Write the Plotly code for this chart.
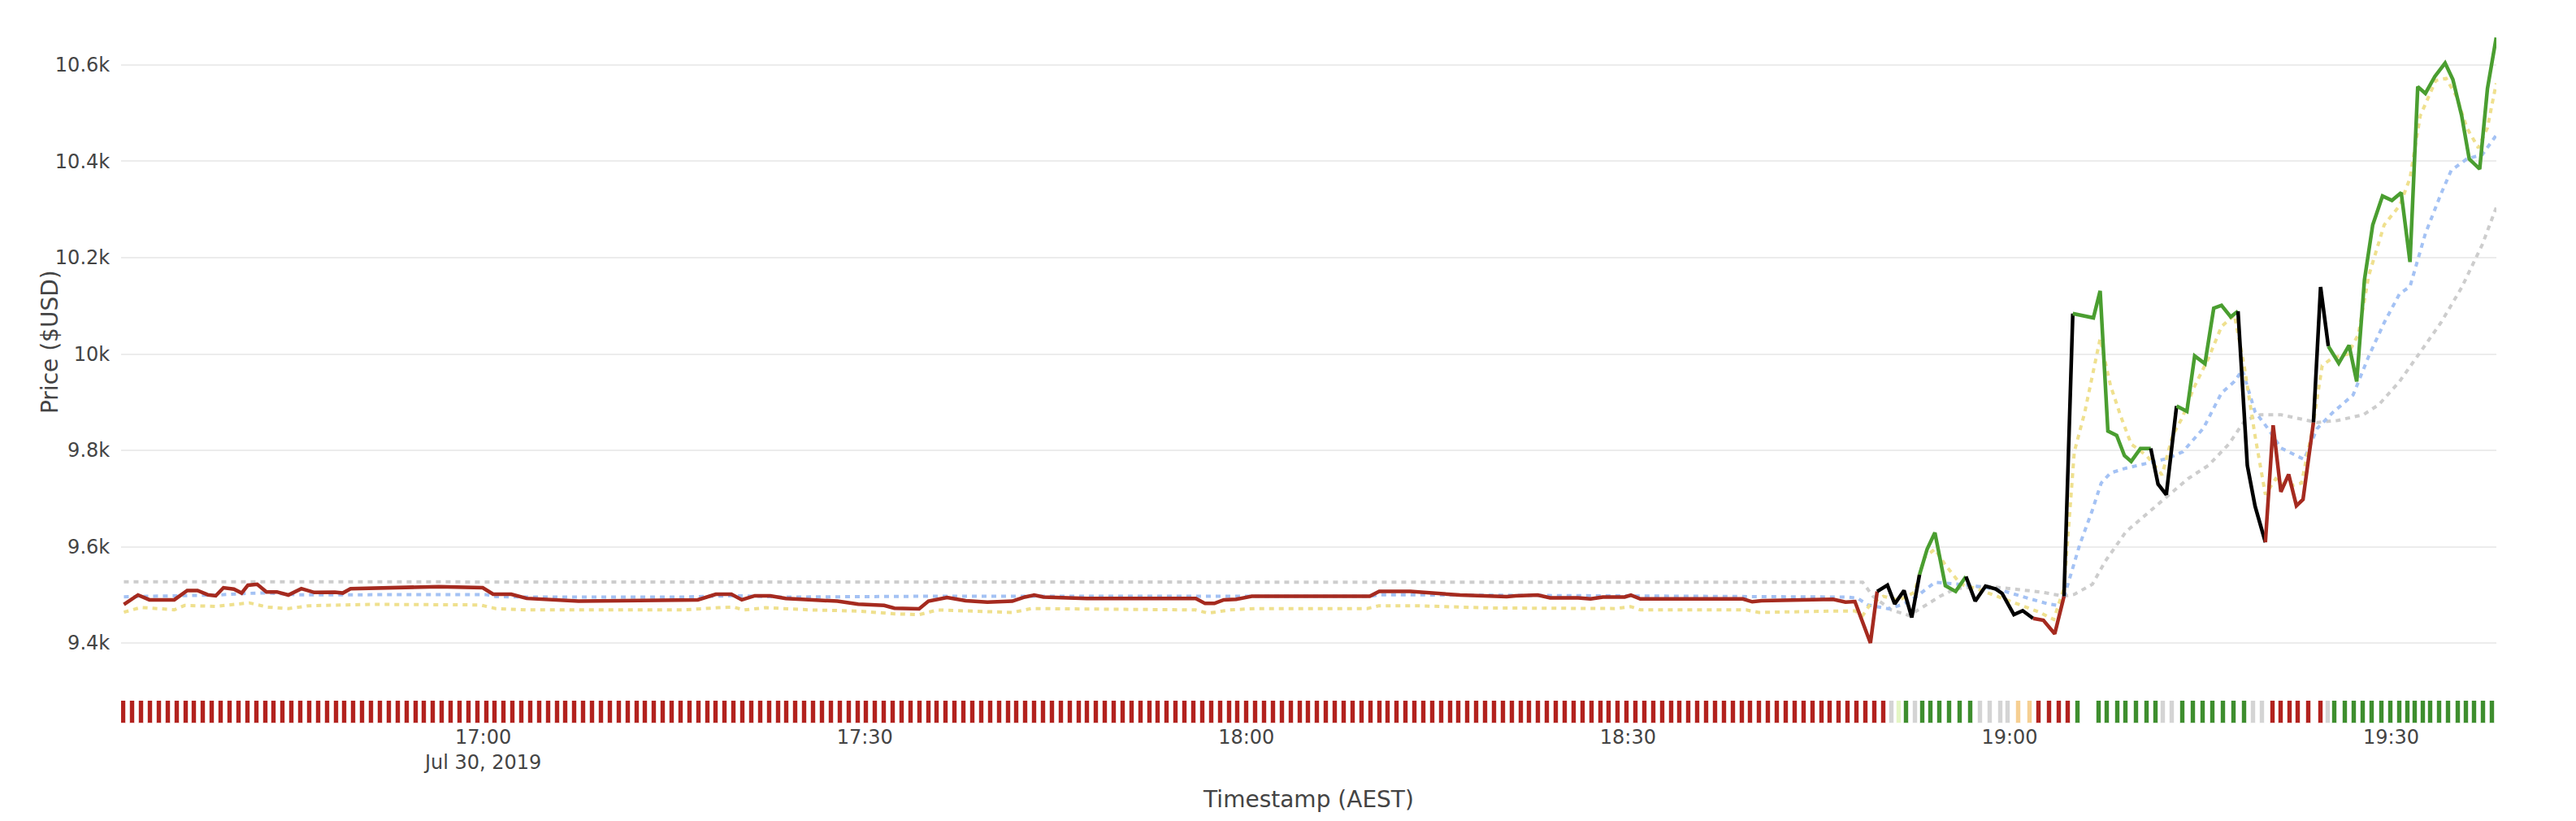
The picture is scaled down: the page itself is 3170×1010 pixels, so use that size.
import numpy as np
import pandas as pd
import plotly.graph_objects as go

BASE = pd.Timestamp("2019-07-30 16:30:00")  # minutes below are measured from this time

# ---------------- price line (minutes after 16:30, USD, segment colour code) ----------------
price_min = [1.75, 2.86, 3.76, 5.71, 6.73, 7.54, 8.36, 8.97, 9.58, 10.40, 11.01, 11.50, 12.23, 12.96,
             13.78, 14.68, 15.70, 16.72, 18.34, 18.96, 19.57, 26.50, 29.96, 30.78, 32.20, 33.42, 37.50,
             46.87, 48.29, 49.51, 50.33, 51.35, 52.57, 53.79, 55.01, 57.85, 59.48, 61.52, 62.33, 64.27,
             65.00, 66.47, 67.93, 69.64, 71.60, 72.58, 73.31, 74.04, 77.46, 86.02, 86.75, 87.48, 88.22,
             89.20, 90.42, 99.70, 100.44, 102.88, 106.79, 110.46, 111.19, 112.90, 113.88, 116.08, 117.06,
             118.03, 119.74, 120.23, 120.97, 129.03, 129.77, 130.50, 136.12, 137.10, 137.84, 139.06,
             139.59, 140.40, 140.97, 141.70, 142.31,
             142.92, 143.52, 144.13, 144.95, 145.76,
             146.57, 147.30, 148.11, 148.92, 149.41, 150.34, 151.03,
             151.85, 152.66, 153.55,
             154.28,
             154.97, 156.59, 157.12, 157.73, 158.42, 159.03, 159.56, 160.29,
             161.10, 161.67, 162.32,
             163.13, 163.94, 164.55, 165.36, 166.05, 166.66, 167.39,
             167.96, 168.69, 169.30,
             170.11, 170.72, 171.33, 171.94, 172.55, 173.07,
             173.89, 174.45,
             175.06, 175.88, 176.69, 177.29, 177.90, 178.55, 179.32, 180.06, 180.79, 181.48, 182.09,
             182.69, 183.43, 184.24, 184.85, 185.54, 186.14, 186.96, 187.57, 188.26]
price_usd = [9480, 9499.6, 9489.6, 9489.6, 9508.9, 9508.9, 9500, 9498, 9514.7, 9512, 9503.7, 9520, 9522, 9506,
             9506, 9499.6, 9512.8, 9505, 9505.5, 9503.7, 9512.8, 9517, 9514.7, 9501.3, 9501.3, 9492.6, 9486.8,
             9489.6, 9501.3, 9501.3, 9489.6, 9498, 9498, 9492.6, 9490.8, 9486.8, 9480.8, 9478, 9472.2, 9471,
             9486.8, 9494.3, 9487.9, 9485, 9486.8, 9495.4, 9499.5, 9495.4, 9492.5, 9492.5, 9482.1, 9482.1, 9489.6,
             9490.8, 9497.2, 9497.2, 9507.2, 9507.2, 9499.5, 9496.4, 9498, 9499.5, 9493.6, 9493.6, 9491.5,
             9495.4, 9495.4, 9499.5, 9491.5, 9491.5, 9485.6, 9487.9, 9490.8, 9485, 9486, 9400,
             9507, 9520, 9481, 9509, 9453,
             9542, 9595, 9629, 9519, 9507,
             9538, 9487, 9518, 9512, 9503, 9459, 9467,
             9451, 9447, 9419,
             9497,
             10084, 10075, 10131, 9840, 9831, 9789, 9777, 9804,
             9804, 9730, 9708,
             9892, 9881, 9996, 9980, 10095, 10101, 10077,
             10089, 9769, 9684,
             9609, 9852, 9714, 9750, 9685, 9698,
             9858, 10139,
             10016, 9981, 10018, 9943, 10154, 10268, 10328, 10319, 10335, 10191, 10555,
             10541, 10576, 10604, 10570, 10495, 10405, 10384, 10551, 10657]
# colour of the segment that starts at each vertex: R = falling, B = neutral, G = rising
price_code = ("R" * 76 + "B" * 5 + "G" * 5 + "B" * 7 + "R" * 3 + "B" * 1 + "G" * 8 + "B" * 3 +
              "G" * 7 + "B" * 3 + "R" * 6 + "B" * 2 + "G" * 19)

# ---------------- moving averages ----------------
ma_fast_min = [1.75, 3.07, 5.72, 6.53, 8.98, 11.6, 13.05, 14.68, 16.3, 21.2, 29.76, 31.0, 33.4, 45.6,
               48.5, 49.7, 50.5, 52.2, 55.8, 59.5, 62.35, 64.27, 65.7, 67.7, 71.6, 73.1, 77.5, 86.0,
               87.0, 88.7, 90.7, 99.5, 100.4, 103.4, 109.2, 119.0, 120.2, 121.0, 129.3, 130.3, 136.1,
               137.84, 138.45, 139.06, 140.07, 141.29, 142.51, 143.32, 144.13, 144.95, 146.16, 147.38,
               148.60, 149.82, 151.03, 152.25, 153.47, 154.28, 155.09, 155.90, 157.12, 157.93, 158.75,
               159.56, 160.78, 161.99, 162.81, 163.62, 164.43, 165.65, 166.66, 167.68, 168.49, 169.30,
               170.11, 170.92, 171.74, 172.95, 173.77, 174.58, 175.39, 176.61, 177.42, 178.23, 179.45,
               180.66, 181.48, 182.29, 183.51, 184.32, 185.13, 185.94, 186.85, 187.57, 188.26]
ma_fast = [9464, 9473.8, 9469, 9478, 9476, 9483.3, 9474.4, 9471.5, 9477.3, 9480.2, 9479, 9471.5, 9468.6,
           9468.6, 9473.3, 9474.4, 9468.6, 9473.3, 9468.6, 9466.3, 9460.5, 9458.8, 9468.6, 9466.3, 9463.4,
           9471.5, 9470.3, 9468.6, 9462, 9468.6, 9471.5, 9471.5, 9477.3, 9477.3, 9472.7, 9471.5, 9475.6,
           9468.6, 9468.6, 9463.4, 9466.3,
           9466.5, 9457, 9481, 9497, 9489, 9505, 9578, 9595, 9562, 9522, 9513,
           9501, 9489, 9477, 9465, 9449, 9514, 9797, 9878, 10032, 9935, 9870,
           9813, 9789, 9749, 9830, 9870, 9927, 9992, 10057, 10081, 9968, 9830,
           9708, 9741, 9724, 9732, 9838, 9976, 9992, 10000, 10041, 10162, 10268,
           10308, 10365, 10495, 10568, 10572, 10535, 10470, 10428, 10470, 10562]

ma_mid_min = [1.75, 6.13, 8.98, 11.42, 13.05, 15.5, 21.2, 30.16, 31.0, 33.4, 45.6, 49.7, 53.8, 64.4,
              99.7, 100.4, 103.0, 137.3, 138.05, 138.86, 140.48, 141.70, 142.71, 144.13, 146.98, 149.41,
              151.44, 153.06, 154.08, 154.69, 155.50, 156.51, 157.20, 157.93, 159.15, 160.78, 162.40,
              163.62, 165.24, 166.66, 167.68, 168.30, 169.30, 170.32, 171.33, 172.55, 173.16, 174.17,
              175.39, 177.01, 178.23, 179.45, 180.66, 181.48, 182.69, 183.91, 184.72, 185.94, 187.16,
              188.26]
ma_mid = [9496, 9498.3, 9499.5, 9503, 9504, 9500, 9500.6, 9500.6, 9496.4, 9495.3, 9495.3, 9498.3, 9495.3,
          9497, 9497, 9500, 9500, 9495.3, 9493, 9479, 9471, 9481, 9497, 9526, 9520, 9509,
          9493, 9481, 9477, 9530, 9603, 9676, 9732, 9753, 9763, 9773, 9783,
          9797, 9846, 9919, 9943, 9967, 9880, 9845, 9805, 9789, 9781, 9845,
          9878, 9915, 9995, 10065, 10125, 10140, 10250, 10332, 10381, 10405, 10414,
          10454]

ma_slow_min = [1.75, 138.45, 139.26, 140.68, 142.10, 143.32, 144.54, 145.76, 148.19, 151.03, 152.66,
               154.28, 155.09, 156.51, 157.53, 159.15, 160.78, 162.40, 164.02, 165.65, 167.27, 168.49,
               169.71, 171.33, 172.95, 174.17, 175.79, 177.82, 179.04, 180.66, 182.29, 183.91, 185.54,
               187.16, 188.26]
ma_slow = [9527, 9526, 9497, 9469, 9457, 9477, 9497, 9513, 9518, 9510, 9505,
           9497, 9501, 9522, 9570, 9631, 9668, 9704, 9741, 9769, 9814, 9862,
           9874, 9874, 9864, 9858, 9862, 9874, 9895, 9943, 10004, 10065, 10138,
           10227, 10304]

# ---------------- signal strip ----------------
# long run of falling signals at the start (evenly sampled), then individually read bars
sig_first_min, sig_last_min, sig_first_count = 1.75, 140.08, 200
sig_min = [140.73, 141.29, 141.87, 142.59, 143.18, 143.83, 144.48, 145.30, 146.11, 146.93, 147.68,
           148.46, 149.28, 149.86, 150.68, 151.59, 152.30, 153.12, 153.93, 154.58, 155.40, 157.03,
           157.68, 158.50, 159.15, 159.96, 160.78, 161.50, 162.08, 162.80, 163.61, 164.43, 165.18,
           165.99, 166.81, 167.62, 168.44, 169.19, 169.90, 170.72, 171.37, 172.02, 172.68, 173.49,
           174.47, 175.05, 175.57, 176.37, 177.06, 177.78, 178.47, 179.28, 179.96, 180.69, 181.29,
           181.90, 182.50, 183.11, 183.79, 184.52, 185.25, 185.93, 186.54, 187.26, 187.95]
sig_code = ("NLGN" + "G" * 6 + "N" * 4 + "O" * 2 + "R" * 4 + "G" * 8 + "N" * 2 + "G" * 7 + "N" * 2 +
            "R" * 6 + "N" + "G" * 19)

price_colors = {"R": "#a52a1f", "B": "#000000", "G": "#4a9e30"}
sig_colors = {"R": "#b2221e", "G": "#3e8e2e", "N": "#d4d4d4", "L": "#e4f6c4", "O": "#f6cf92"}


def ts(mins):
    return [BASE + pd.Timedelta(minutes=float(m)) for m in mins]


fig = go.Figure()

# moving averages (drawn under the price)
for xs, ys, col in [(ma_slow_min, ma_slow, "#cdcdcd"),
                    (ma_mid_min, ma_mid, "#a4c2f4"),
                    (ma_fast_min, ma_fast, "#efe08e")]:
    fig.add_trace(go.Scatter(x=ts(xs), y=ys, mode="lines",
                             line=dict(color=col, width=4, dash="6px,6px"),
                             hoverinfo="skip", showlegend=False))

# price line split in coloured runs
n = len(price_min)
i = 0
while i < n - 1:
    c = price_code[i]
    j = i
    while j < n - 1 and price_code[j] == c:
        j += 1
    fig.add_trace(go.Scatter(x=ts(price_min[i:j + 1]), y=price_usd[i:j + 1], mode="lines",
                             line=dict(color=price_colors[c], width=4.5),
                             showlegend=False))
    i = j

# signal strip
strip_min = list(np.linspace(sig_first_min, sig_last_min, sig_first_count)) + sig_min
strip_code = "R" * sig_first_count + sig_code
fig.add_trace(go.Bar(x=ts(strip_min), y=[1] * len(strip_min), yaxis="y2",
                     width=23000,
                     marker=dict(color=[sig_colors[c] for c in strip_code],
                                 line=dict(color="rgba(255,255,255,0.6)", width=1)),
                     showlegend=False))

font_family = '"DejaVu Sans", Verdana, sans-serif'
fig.update_layout(
    template="none",
    width=3170, height=1010,
    margin=dict(l=141, r=106, t=33, b=128),
    paper_bgcolor="white", plot_bgcolor="white",
    font=dict(family=font_family, size=24, color="#444"),
    showlegend=False,
    bargap=0,
    xaxis=dict(type="date", anchor="y2",
               range=[BASE + pd.Timedelta(minutes=1.53), BASE + pd.Timedelta(minutes=188.27)],
               tick0="2019-07-30 17:00:00", dtick=30 * 60 * 1000,
               showgrid=False, zeroline=False, showline=False, ticks="",
               tickfont=dict(size=24, color="#444"), automargin=False,
               title=dict(text="Timestamp (AEST)", standoff=22, font=dict(size=28, color="#444"))),
    yaxis=dict(domain=[0.1048, 1], range=[9383.1, 10665.8], tick0=9400, dtick=200,
               gridcolor="#ececec", gridwidth=2, zeroline=False, showline=False,
               ticks="outside", ticklen=8, tickcolor="rgba(0,0,0,0)", automargin=False,
               tickfont=dict(size=24, color="#444")),
    yaxis2=dict(domain=[0, 0.033], range=[0, 1], visible=False),
    annotations=[dict(text="Price ($USD)", textangle=-90, showarrow=False,
                      xref="paper", yref="paper", x=-0.0301, y=(0.1048 + 1) / 2,
                      xanchor="center", yanchor="middle",
                      font=dict(size=28, color="#444", family=font_family))],
)

fig.write_html("out.html")
